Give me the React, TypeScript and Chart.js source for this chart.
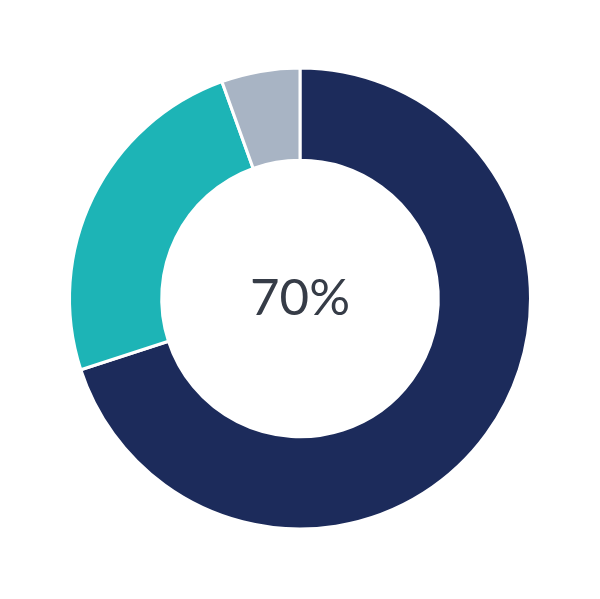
import React, { useEffect, useRef } from "react";
import { Chart, registerables } from "chart.js";

Chart.register(...registerables);

const labels: string[] = ["A", "B", "C"];
const values: number[] = [70, 24.5, 5.5];
const colors: string[] = ["#1c2b5b", "#1db4b6", "#a8b4c4"];
const centerText = "70%";

export default function App() {
  const ref = useRef<HTMLCanvasElement | null>(null);
  useEffect(() => {
    if (!ref.current) return;
    const centerPlugin = {
      id: "centerText",
      afterDraw(chart: any) {
        const meta = chart.getDatasetMeta(0);
        const arc = meta.data[0];
        if (!arc) return;
        const { x, y } = arc;
        const ctx = chart.ctx;
        ctx.save();
        ctx.font = "400 51px Lato";
        ctx.fillStyle = "#363c47";
        ctx.textAlign = "center";
        ctx.textBaseline = "middle";
        ctx.fillText(centerText, x, y);
        ctx.restore();
      },
    };
    const chart = new Chart(ref.current, {
      type: "doughnut",
      data: {
        labels,
        datasets: [
          {
            data: values,
            backgroundColor: colors,
            borderColor: "#ffffff",
            borderWidth: 3,
          },
        ],
      },
      options: {
        animation: false,
        responsive: false,
        cutout: "60%",
        layout: { padding: { top: 66, bottom: 68, left: 68, right: 68 } },
        plugins: { legend: { display: false }, tooltip: { enabled: false } },
      },
      plugins: [centerPlugin],
    });
    return () => chart.destroy();
  }, []);
  return (
    <div style={{ position: "absolute", left: 0, top: 0, width: 600, height: 599, background: "#fff" }}>
      <canvas ref={ref} width={600} height={599} style={{ width: 600, height: 599 }} />
    </div>
  );
}
